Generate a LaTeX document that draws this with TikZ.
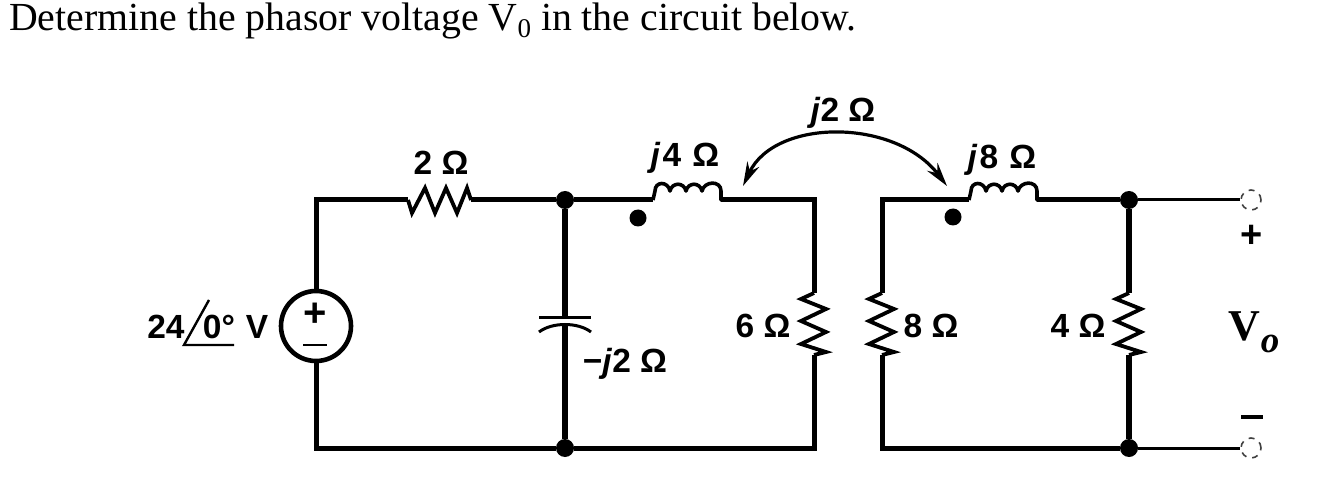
\documentclass[tikz,border=0pt]{standalone}
\usepackage{fontspec}
\setmainfont{Liberation Serif}
\newfontfamily\lblfont{Liberation Sans}
\usetikzlibrary{arrows.meta}
\tikzset{
  wire/.style={line width=5pt,line cap=butt,line join=miter},
  thick wire/.style={line width=6.4pt},
  res/.style={line width=3.8pt,line join=miter},
  ind/.style={line width=3.6pt,line join=round},
  lead/.style={line width=3pt},
  junction/.style={circle,fill=black,inner sep=0pt,minimum size=18pt},
  polarity dot/.style={circle,fill=black,inner sep=0pt,minimum size=17pt},
  lbl/.style={font=\lblfont\bfseries\fontsize{33.5}{33.5}\selectfont,inner sep=0pt,anchor=base},
  terminal/.style={circle,draw=black!75,dash pattern=on 6pt off 6pt,line width=1.6pt,minimum size=20pt,inner sep=0pt},
}
\newcommand{\hzig}[3]{% x0,x1,y
  (#1,#3) -- ++(4,13) -- ++(13,-25) -- ++(10,25) -- ++(11,-25) -- ++(11,25) -- ++(10,-25) -- (#2,#3)}
\newcommand{\vzig}[3]{% x,y0,y1
  (#1,#2) -- ++(-13,6) -- ++(25,10) -- ++(-25,12) -- ++(25,11) -- ++(-25,12) -- ++(25,8) -- (#1,#3)}
\newcommand{\coil}[3]{% x0,x1,y
  (#1,#3) -- ++(2,-9) .. controls +(0,-10) and +(-2,-10) .. ++(15,0) .. controls +(2,-9) and +(-2,-9) .. ++(16,0) .. controls +(2,-9) and +(-2,-9) .. ++(16,0) .. controls +(2,-10) and +(0,-11) .. ++(19,0) -- ++(0,9) -- (#2,#3)}
\begin{document}
\begin{tikzpicture}[x=1pt,y=-1pt]
\useasboundingbox (0,0) rectangle (1338,494);
% title
\node[anchor=base west,inner sep=0pt,font=\fontsize{39.8}{42}\selectfont] (title) at (9,31) {Determine the phasor voltage V\raisebox{-7pt}{\fontsize{27}{27}\selectfont 0} in the circuit below.};
% anchor points
\coordinate (tl) at (316,200); \coordinate (bl) at (316,448);
\node[circle,draw,line width=4.6pt,minimum size=70pt,inner sep=0pt] (src) at (316,326) {};
\coordinate (r2a) at (408,200); \coordinate (r2b) at (471,200);
\node[junction] (ntop) at (565,200) {};
\node[junction] (nbot) at (565,448) {};
\coordinate (capt) at (565,317); \coordinate (capb) at (565,323);
\coordinate (j4a) at (653,200); \coordinate (j4b) at (723,200);
\coordinate (tr1) at (814,200); \coordinate (br1) at (814,448);
\coordinate (r6a) at (814,293); \coordinate (r6b) at (814,355);
\coordinate (tl2) at (882,200); \coordinate (bl2) at (882,448);
\coordinate (r8a) at (882,293); \coordinate (r8b) at (882,355);
\coordinate (j8a) at (969,200); \coordinate (j8b) at (1039,200);
\node[junction] (ntop2) at (1129,200) {};
\node[junction] (nbot2) at (1129,448) {};
\coordinate (r4a) at (1129,293); \coordinate (r4b) at (1129,355);
\node[terminal] (ttop) at (1251,200) {};
\node[terminal] (tbot) at (1251,448) {};
% wires
\draw[wire] (src.north) -- (tl) -- (r2a);
\draw[wire] (r2b) -- (ntop) -- (j4a);
\draw[wire] (j4b) -- (tr1) -- (r6a);
\draw[wire] (r6b) -- (br1) -- (nbot) -- (bl) -- (src.south);
\draw[wire] (r8a) -- (tl2) -- (j8a);
\draw[wire] (j8b) -- (ntop2);
\draw[wire] (r8b) -- (bl2) -- (nbot2);
\draw[thick wire] (ntop) -- (capt);
\draw[thick wire] (capb) -- (nbot);
\draw[thick wire] (ntop2) -- (r4a);
\draw[thick wire] (r4b) -- (nbot2);
\draw[lead] (ntop2) -- (ttop);
\draw[lead] (nbot2) -- (tbot);
% capacitor
\draw[line width=3pt] (539,317) -- (591,317);
\draw[line width=3pt] (539,332) .. controls (552,322) and (578,322) .. (591,332);
% resistors
\draw[res] \hzig{408}{471}{200};
\draw[res] \vzig{814}{293}{355};
\draw[res] \vzig{882}{293}{355};
\draw[res] \vzig{1129}{293}{355};
% inductors
\draw[ind] \coil{653}{723}{200};
\draw[ind] \coil{969}{1039}{200};
% polarity dots
\node[polarity dot] (d1) at (638,218) {};
\node[polarity dot] (d2) at (953,217) {};
% coupling arc
\coordinate (ca) at (743,186); \coordinate (cb) at (947,186);
\draw[line width=3.2pt,{Stealth[length=24pt,width=13pt]}-{Stealth[length=24pt,width=13pt]}] (ca) .. controls (775,118) and (895,118) .. (cb);
% source polarity
\node[inner sep=0pt,font=\lblfont\bfseries\fontsize{40}{40}\selectfont] (sp) at (315,315) {+};
\draw[line width=2.6pt] (303,345) -- (327,345);
% labels
\node[lbl] (l2) at (441,175) {2 Ω};
\node[lbl] (lj4) at (685,167) {\textit{j}\kern2pt 4 \kern2pt Ω};
\node[lbl] (lj2) at (843,122) {\textit{j}2 Ω};
\node[lbl] (lj8) at (1002,169) {\textit{j}\kern2pt 8 \kern2pt Ω};
\node[lbl] (l6) at (763,337) {6 Ω};
\node[lbl] (l8) at (931,337) {8 Ω};
\node[lbl] (l4) at (1078,337) {4 Ω};
\node[lbl] (lcap) at (625,372) {−\textit{j}2 Ω};
% source label
\node[lbl] (l24) at (166,338) {24};
\node[lbl] (l0) at (219,338) {0°};
\node[lbl] (lv) at (257,338) {V};
\coordinate (an1) at (209,300); \coordinate (an2) at (184,345); \coordinate (an3) at (234,345);
\draw[line width=2.4pt] (an1) -- (an2) -- (an3);
% Vo
\node[inner sep=0pt,font=\lblfont\bfseries\fontsize{38}{38}\selectfont] (vplus) at (1252,236) {+};
\coordinate (m1) at (1241,417); \coordinate (m2) at (1263,417);
\draw[line width=3.4pt] (m1) -- (m2);
\node[inner sep=0pt,anchor=base,font=\bfseries\fontsize{44}{44}\selectfont] (vo) at (1244,340) {V};
\node[inner sep=0pt,anchor=base,font=\bfseries\itshape\fontsize{37}{37}\selectfont] (vsub) at (1270,352) {o};
\end{tikzpicture}
\end{document}
